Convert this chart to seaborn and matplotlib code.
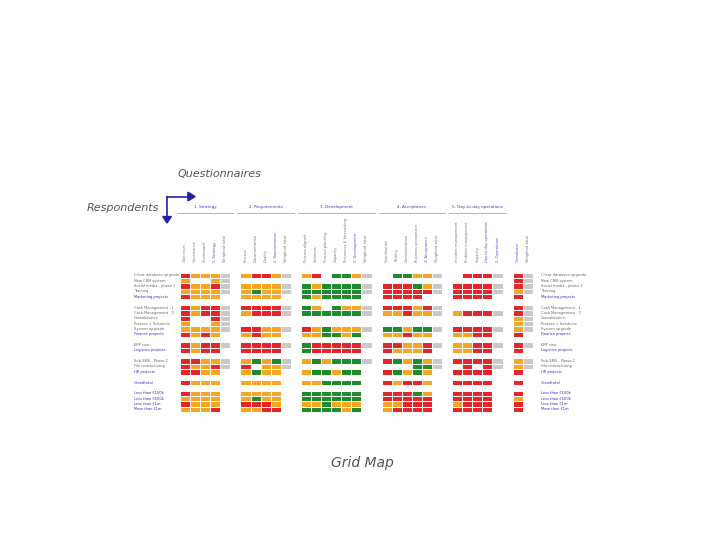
import numpy as np
import pandas as pd
import matplotlib
matplotlib.use("Agg")
import matplotlib.pyplot as plt
from matplotlib.colors import ListedColormap
import seaborn as sns

# Column groups (questionnaires)
groups = ["1. Strategy", "2. Requirements", "3. Development", "4. Acceptance", "5. Day-to-day operations", ""]
group_cols = [
    ["Objectives", "Governance", "Scoreboard", "1. Strategy", "Weighted total"],
    ["Process", "Documentation", "Quality", "2. Requirements", "Weighted total"],
    ["Process aligned", "Solutions", "Process planning", "Capacity", "Resources & forecasting", "3. Development", "Weighted total"],
    ["Coordination", "Testing", "Documentation", "Business acceptance", "4. Acceptance", "Weighted total"],
    ["Incident management", "Problem management", "Capacity", "Day-to-day operations", "5. Operations"],
    ["Grandtotal", "Weighted total"],
]
blue_cols = ["1. Strategy", "2. Requirements", "3. Development", "4. Acceptance", "Day-to-day operations", "5. Operations", "Grandtotal"]

# Respondents (rows); None = gap
row_labels = ["Client database upgrade", "New CRM system", "Social media - phase 1", "Training", "Marketing projects", None,
              "Cash Management - 1", "Cash Management - 2", "Consolidation", "Process + Solutions", "System upgrade",
              "Finance projects", None, "ERP cost", "Logistics projects", None, "Sub-SMS - Phase 2",
              "File restructuring", "HR projects", None, "Grandtotal", None,
              "Less than €100k", "Less than €500k", "Less than €1m", "More than €1m"]
blue_rows = ["Marketing projects", "Finance projects", "Logistics projects", "HR projects", "Grandtotal",
             "Less than €100k", "Less than €500k", "Less than €1m", "More than €1m"]

# R=red, O=orange, G=green, X=grey, .=empty
scores = [
    ["ROOOX", "ORROX", "OR.GGOX", ".GGOOX", ".RRRX", "RX"],
    ["O..OX", ".....", ".......", "......", ".....", "RX"],
    ["ROORX", "OOOOX", "GOGGGGX", "RRRGOX", "RRRRX", "RX"],
    ["OOOOX", "OGOOX", "GGGGGGX", "RRRRRX", "RRRRX", "OX"],
    ["ROOO.", "OOOO.", "GOGGGG.", "RRRR..", "RRRR.", "R."],
    None,
    ["RORRX", "RRRRX", "GO.GOOX", "RRRORX", ".....", "RX"],
    ["RORRX", "ORRRX", "GGGGGGX", "OOROOX", "ORRRX", "RX"],
    ["R..RX", ".....", ".......", "......", ".....", "OX"],
    ["O..OX", ".....", ".......", "......", ".....", "OX"],
    ["OOOOX", "RROOX", "ROGOOOX", "GGOGGX", "RRRRX", "OX"],
    ["RORO.", "OROO.", "OOGGOG.", "OOROO.", "OORR.", "R."],
    None,
    ["RORRX", "RRRRX", "GRRRRRX", "RROORX", "OORRX", "RX"],
    ["RORR.", "RRRR.", "GRRRRR.", "ROOOR.", "OORR.", "R."],
    None,
    ["RROOX", "OGOGX", "OGOGGGX", "RGOGOX", "RRRRX", "OX"],
    ["ROORX", "R.OOX", ".......", "...GGX", ".R.RX", "OX"],
    ["RROO.", "OGOO.", "OGGOGG.", "RGOGO.", "RRRR.", "R."],
    None,
    ["ROOO.", "OOOO.", "OOGGGG.", "RORRO.", "RRRR.", "R."],
    None,
    ["ROOO.", "OOOO.", "GGGGGG.", "RRRGO.", "RRRR.", "R."],
    ["OOOO.", "OGOO.", "GGGGGG.", "RRRRR.", "RRRR.", "O."],
    ["ROOO.", "RRRO.", "OOGOOO.", "OORRR.", "ORRR.", "R."],
    ["OOOR.", "OORR.", "GGGGOG.", "ORRRR.", "RRRR.", "R."],
]

code = {"R": 0, "O": 1, "G": 2, "X": 3, ".": np.nan}

# build matrix with gap columns between groups
col_names = []
for gi, cols in enumerate(group_cols):
    col_names += cols
    if gi < len(group_cols) - 1:
        col_names.append("")
mat = []
for row in scores:
    if row is None:
        mat.append([np.nan] * len(col_names))
        continue
    vals = []
    for gi, s in enumerate(row):
        vals += [code[c] for c in s]
        if gi < len(row) - 1:
            vals.append(np.nan)
    mat.append(vals)
df = pd.DataFrame(mat, columns=col_names)

fig = plt.figure(figsize=(7.2, 5.4), dpi=100)
ax = fig.add_axes([0.25, 0.237, 0.49, 0.258])
cmap = ListedColormap(["#e3262c", "#f5a623", "#1e8c2c", "#c9c9c9"])
sns.heatmap(df, ax=ax, cmap=cmap, vmin=-0.5, vmax=3.5, cbar=False,
            linewidths=0.6, linecolor="white", xticklabels=False, yticklabels=False)
ax.set_xlabel("")
ax.set_ylabel("")

# column labels (rotated) and group headers
x = 0
for gi, cols in enumerate(group_cols):
    start = x
    for c in cols:
        ax.text(x + 0.5, -2.0, c, rotation=90, ha="center", va="bottom", fontsize=2.6,
                color="#5050d0" if c in blue_cols else "#777777")
        x += 1
    if groups[gi]:
        ax.text((start + x) / 2, -11.8, groups[gi], ha="center", va="bottom", fontsize=3, color="#4040b0")
        ax.plot([start - 0.3, x + 0.3], [-11.2, -11.2], color="#b0b0e0", lw=0.7, clip_on=False)
    x += 1

# row labels on both sides
ncol = len(col_names)
for i, lab in enumerate(row_labels):
    if lab is None:
        continue
    col = "#3030c0" if lab in blue_rows else "#666666"
    ax.text(-4.6, i + 0.5, lab, ha="left", va="center", fontsize=2.6, color=col)
    ax.text(ncol + 0.8, i + 0.5, lab, ha="left", va="center", fontsize=2.6, color=col)

fig.text(0.247, 0.672, "Questionnaires", fontsize=8, style="italic", color="#555555")
fig.text(0.12, 0.61, "Respondents", fontsize=8, style="italic", color="#555555")
fig.text(0.46, 0.135, "Grid Map", fontsize=10, style="italic", color="#555555")
fig.add_artist(plt.Line2D([0.232, 0.232], [0.636, 0.595], color="#2020b0", lw=1.2))
fig.add_artist(plt.Line2D([0.232, 0.265], [0.636, 0.636], color="#2020b0", lw=1.2))
fig.patches.append(matplotlib.patches.FancyArrow(0.232, 0.6, 0, -0.001, width=0.0, head_width=0.012,
                                                 head_length=0.012, color="#2020b0", transform=fig.transFigure))
fig.patches.append(matplotlib.patches.FancyArrow(0.26, 0.636, 0.001, 0, width=0.0, head_width=0.016,
                                                 head_length=0.01, color="#2020b0", transform=fig.transFigure))

fig.savefig("out.png", dpi=100)
